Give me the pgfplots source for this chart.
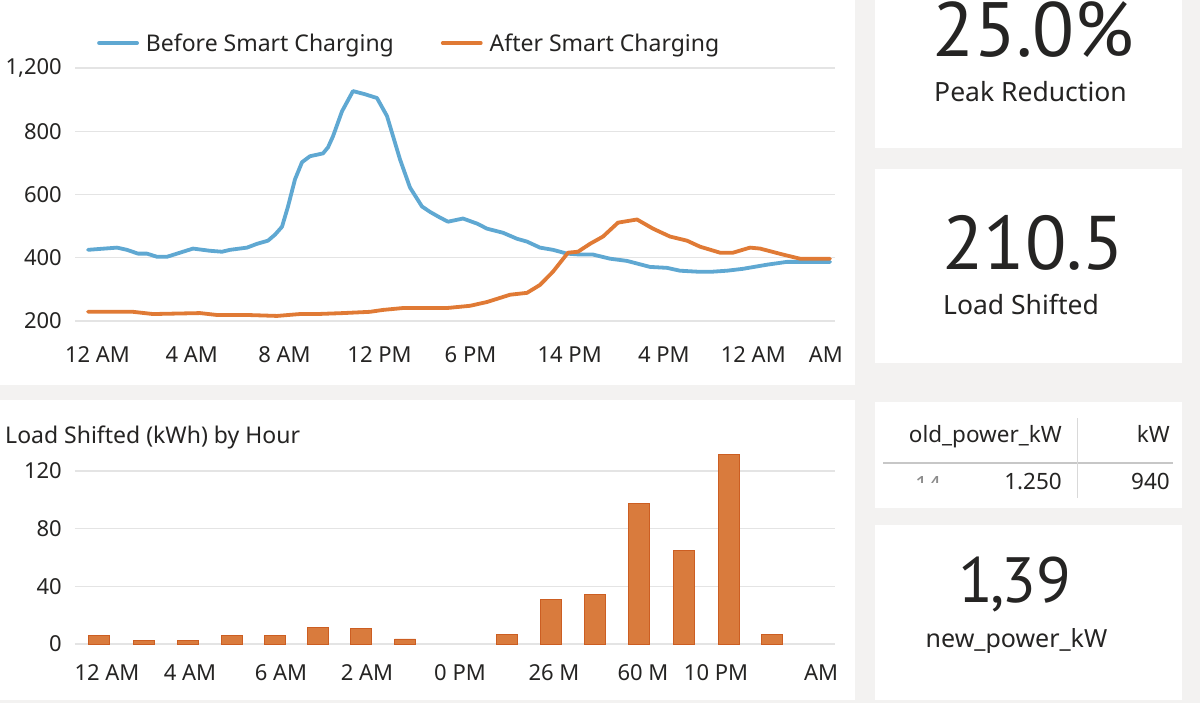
\documentclass[border=0pt]{standalone}
\usepackage{pgfplots}
\pgfplotsset{compat=1.18}
\usepackage{fontspec}
\setmainfont{Noto Sans}
\newfontfamily\numfont{PT Sans}
\definecolor{bg}{HTML}{F3F2F1}
\definecolor{txt}{HTML}{252423}
\definecolor{gridc}{HTML}{E4E4E4}
\definecolor{bluel}{HTML}{5FA8D2}
\definecolor{orangel}{HTML}{E07A35}
\definecolor{barfill}{HTML}{D97B3D}
\definecolor{baredge}{HTML}{CC5E22}
\newcommand{\fs}[1]{\fontsize{#1}{#1}\selectfont}
\pgfplotstableread{
x y
88 425
117 432
127 425
138 413
147 413
157 403
167 403
180 416
193 429
210 422
222 419
230 425
247 432
257 444
268 454
275 473
282 498
288 562
295 648
302 702
310 721
323 730
328 749
333 784
342 863
353 927
365 917
377 905
387 848
400 711
410 622
422 562
430 545
440 527
448 514
463 524
477 508
487 492
503 479
517 460
527 451
540 432
553 425
567 413
580 410
593 410
610 397
627 390
650 371
667 368
680 359
697 356
713 356
727 359
743 365
767 378
787 387
803 387
830 387
}\before
\pgfplotstableread{
x y
88 229
133 229
153 222
200 225
217 219
247 219
277 216
300 222
317 222
343 225
370 229
383 235
403 241
447 241
470 248
487 260
510 283
527 289
540 314
553 356
568 416
578 419
590 444
603 467
618 511
637 521
653 492
670 467
687 454
700 435
720 416
733 416
750 432
760 429
783 410
800 397
830 397
}\after
\pgfplotstableread{
x y
98.5 6
144 2.6
188 2.6
232 5.8
275 5.8
318 11.6
361 10.6
405 3.5
507 6.9
551 31
595 34.5
639 97.6
684 65.2
729 131.6
772 6.7
}\bars
\begin{document}
\begin{tikzpicture}[x=1pt,y=1pt]
\fill[bg] (0,0) rectangle (1200,703);
\fill[white] (0,318) rectangle (855,703);
\fill[white] (0,3) rectangle (855,303);
\fill[white] (875,555) rectangle (1182,703);
\fill[white] (875,340) rectangle (1182,534);
\fill[white] (875,195) rectangle (1182,301);
\fill[white] (875,3) rectangle (1182,178);

\begin{axis}[
  at={(75pt,382pt)}, anchor=south west, scale only axis,
  width=760pt, height=253pt,
  xmin=75, xmax=835, ymin=200, ymax=1000,
  axis line style={draw=none}, major tick length=0pt,
  ymajorgrids, grid style={draw=gridc, line width=1.2pt},
  ytick={200,400,600,800,1000}, yticklabels={200,400,600,800,{1,200}},
  xtick={97.5,191.7,284.5,379.5,470.5,569.7,663.8,753.3,825.8},
  xticklabels={12 AM,4 AM,8 AM,12 PM,6 PM,14 PM,4 PM,12 AM,AM},
  xticklabel style={anchor=base, yshift=-42pt, font=\fs{22}, text=txt, inner sep=0pt},
  yticklabel style={anchor=east, xshift=-13pt, font=\fs{22}, text=txt, inner sep=0pt},
  legend columns=2,
  legend style={at={(0.0289,1.0988)}, anchor=west, draw=none, fill=none,
    font=\fs{23}, text=txt, inner sep=0pt,
    /tikz/every odd column/.append style={column sep=5pt},
    /tikz/every even column/.append style={column sep=45pt}},
  legend image code/.code={\draw[#1] (0pt,0pt) -- (38pt,0pt);},
  clip=false,
]
\addplot[bluel, line width=3.8pt, line join=round, line cap=round] table[x=x,y=y] {\before};
\addplot[orangel, line width=3.8pt, line join=round, line cap=round] table[x=x,y=y] {\after};
\legend{Before Smart Charging, After Smart Charging}
\end{axis}

\node[anchor=base west, inner sep=0pt, text=txt, font=\fs{23}] at (5,259) {Load Shifted (kWh) by Hour};

\begin{axis}[
  at={(75pt,59pt)}, anchor=south west, scale only axis,
  width=760pt, height=194.6pt,
  xmin=75, xmax=835, ymin=0, ymax=135,
  axis line style={draw=none}, major tick length=0pt,
  ymajorgrids, grid style={draw=gridc, line width=1.2pt},
  ytick={0,40,80,120}, yticklabels={0,40,80,120},
  xtick={107,190,281,367,460,554,643,716,821},
  xticklabels={12 AM,4 AM,6 AM,2 AM,0 PM,26 M,60 M,10 PM,AM},
  xticklabel style={anchor=base, yshift=-37pt, font=\fs{22}, text=txt, inner sep=0pt},
  yticklabel style={anchor=east, xshift=-13pt, font=\fs{22}, text=txt, inner sep=0pt},
  ybar, bar width=21,
  clip=false,
]
\addplot[fill=barfill, draw=baredge, line width=0.8pt] table[x=x,y=y] {\bars};
\end{axis}

% KPI cards
\node[anchor=base, inner sep=0pt, text=txt, font=\numfont\fs{77}] at (1033.5,646) {25.0\%};
\node[anchor=base, inner sep=0pt, text=txt, font=\fs{26.5}] at (1030.5,601) {Peak Reduction};
\node[anchor=base west, inner sep=0pt, text=txt, font=\numfont\fs{76}] at (942,433) {210.5};
\node[anchor=base west, inner sep=0pt, text=txt, font=\fs{26.5}] at (943,388) {Load Shifted};
% table card
\draw[color=black!22, line width=1.2pt] (883,240) -- (1173,240);
\draw[color=black!15, line width=1pt] (1077,205) -- (1077,285);
\node[anchor=base east, inner sep=0pt, text=txt, font=\fs{22.5}] at (1062,260) {old\_power\_kW};
\node[anchor=base east, inner sep=0pt, text=txt, font=\fs{22.5}] at (1170,260) {kW};
\node[anchor=base east, inner sep=0pt, text=txt, font=\fs{22.5}] at (1062,213) {1.250};
\node[anchor=base east, inner sep=0pt, text=txt, font=\fs{22.5}] at (1170,213) {940};
\begin{scope}
\clip (905,220) rectangle (960,226);
\node[anchor=base west, inner sep=0pt, text=black!45, font=\fs{22.5}] at (915,210) {14};
\end{scope}
% last card
\node[anchor=base west, inner sep=0pt, text=txt, font=\numfont\fs{64}] at (958,100) {1\kern-3pt,\kern-3pt39};
\node[anchor=base, inner sep=0pt, text=txt, font=\fs{25}] at (1016.5,55) {new\_power\_kW};
\end{tikzpicture}
\end{document}
